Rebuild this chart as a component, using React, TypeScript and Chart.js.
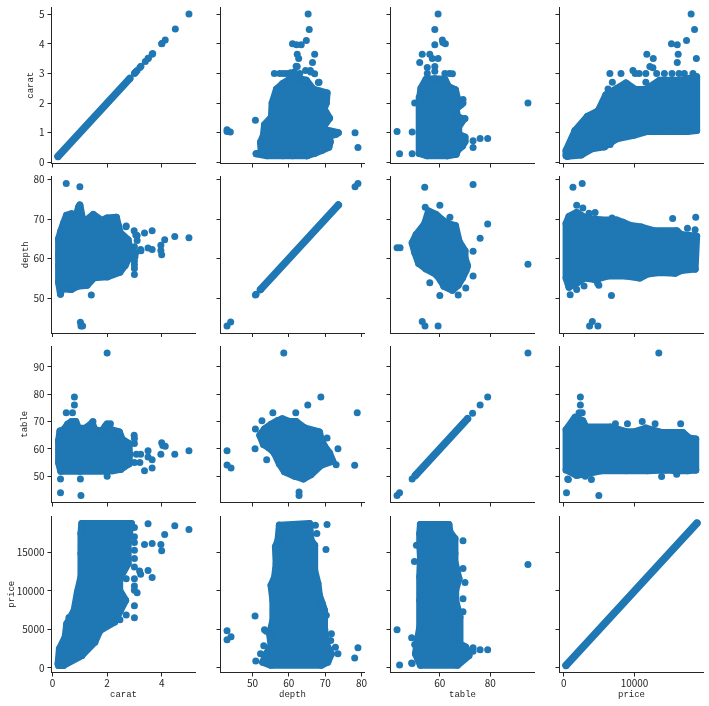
import React, { useEffect, useRef } from "react";
import { Chart, registerables } from "chart.js";

Chart.register(...registerables);

const variables = ["carat", "depth", "table", "price"];

const caratRange = [-0.04, 5.24];
const depthRange = [41.2, 80.8];
const tableRange = [40.4, 97.6];
const priceRange = [-599, 19748];

const caratTicksX = [0, 2, 4];
const caratTicksY = [0, 1, 2, 3, 4, 5];
const depthTicks = [50, 60, 70, 80];
const tableTicksX = [60, 80];
const tableTicksY = [50, 60, 70, 80, 90];
const priceTicksX = [0, 10000];
const priceTicksY = [0, 5000, 10000, 15000];

// Diagonals: continuous runs and isolated values
const caratRun = [0.2, 2.83];
const caratAlone = [3.0, 3.02, 3.05, 3.1, 3.2, 3.24, 3.4, 3.5, 3.51, 3.65, 3.67, 4.0, 4.01, 4.13, 4.5, 5.0];
const depthRun = [52.2, 73.6];
const depthAlone = [43, 44, 50.8, 51, 78.2, 79];
const tableRun = [50.5, 71];
const tableAlone = [43, 44, 49, 50, 73, 76, 79, 95];
const priceRun = [326, 18823];
const priceAlone: number[] = [];

// Outlines of the dense clouds and the isolated points, one list per pair of variables
const caratDepthEdge = [[0.22, 65], [0.3, 67], [0.4, 69], [0.51, 71], [0.7, 71.4], [0.85, 70.5], [0.95, 73], [1.0, 73.6], [1.1, 70], [1.22, 69.7], [1.49, 71.2], [1.8, 69.7], [2.0, 70.3], [2.34, 70.5], [2.41, 68.4], [2.47, 66.7], [2.77, 64.8], [2.83, 62.5], [2.8, 60.2], [2.66, 58.3], [2.47, 56.6], [2.0, 55.4], [1.53, 55.2], [1.27, 53.3], [0.91, 53], [0.68, 52.2], [0.34, 52.4], [0.29, 51], [0.22, 54], [0.22, 58.3], [0.22, 61]];
const caratDepthAlone = [[5, 65.3], [4.48, 65.6], [4.11, 64.8], [4, 61], [3.97, 63.4], [3.97, 62.1], [3.65, 62.3], [3.65, 67.1], [3.5, 62.7], [3.37, 66.5], [3.23, 62.3], [3.1, 65.9], [3.1, 64.6], [2.99, 67.1], [2.69, 68.1], [3, 59.4], [3, 57.5], [3, 56], [3, 61], [3, 63], [1.42, 50.8], [0.5, 79], [1.0, 78.2], [1.02, 43.9], [1.04, 43], [1.1, 43], [3.24, 62], [3.05, 61.5], [3.02, 60.5], [3.0, 58.5], [3.05, 66], [2.7, 68.3]];

const caratTableEdge = [[0.22, 63], [0.27, 66.5], [0.4, 67], [0.55, 69], [0.7, 70], [0.85, 70], [0.95, 67.5], [1.2, 67.5], [1.45, 69.5], [1.55, 67], [1.8, 66.5], [1.95, 68.5], [2.15, 67], [2.45, 66.2], [2.55, 63.5], [2.8, 62], [2.82, 58], [2.8, 54.5], [2.5, 52.5], [2.2, 52], [2, 51.8], [1, 51.8], [0.3, 51.8], [0.22, 55]];
const caratTableAlone = [[2, 95], [0.8, 79], [0.8, 76], [0.5, 73.2], [0.73, 73.2], [0.29, 49], [0.29, 44], [1.04, 43], [1.02, 49], [2, 50], [1.48, 70], [2, 69.2], [2.12, 69.2], [2.99, 65], [3, 63.8], [4, 62.2], [4.04, 61.2], [4.13, 61], [3.97, 58], [4.48, 58], [5, 59.3], [3.5, 59.3], [3.5, 57], [3.65, 56], [3.65, 53], [3.37, 52], [3.23, 58], [3.2, 55], [3, 55], [3.07, 58], [3, 62]];

const caratPriceEdge = [[1.07, 1600], [1.55, 3350], [1.74, 4870], [2.28, 5960], [2.49, 7480], [2.68, 8780], [2.46, 10090], [2.46, 11600], [2.77, 13570], [2.77, 16600], [2.89, 18780], [1.07, 18780], [1.04, 17480], [1.04, 14870], [1.04, 11830], [0.91, 9870], [0.79, 7480], [0.52, 5740], [0.46, 4000], [0.25, 2480], [0.2, 520], [0.22, 326], [0.4, 326]];
const caratPriceAlone = [[5, 18000], [4.48, 18480], [3.5, 18740], [4.11, 17350], [3, 18260], [3.37, 16040], [3.65, 16170], [3.97, 16040], [4, 15220], [3, 17040], [3, 16300], [3, 15300], [3, 14220], [3, 13130], [3.5, 12650], [3.19, 12600], [3.23, 12170], [3.65, 11740], [3, 11600], [2.7, 11600], [3, 10650], [3.1, 9780], [3, 10090], [3, 8090], [3, 6520], [2.7, 6870], [2.47, 6260], [0.6, 6560]];

const depthTableEdge = [[54.5, 60.4], [53, 61.6], [52, 65], [53.3, 67.3], [55.1, 69], [57, 70.4], [58.2, 71], [60.2, 70], [62, 70], [64.3, 67.7], [68.4, 66.2], [68.9, 63.4], [69.8, 61], [71.2, 58.5], [72.1, 55.5], [68.9, 54], [66.1, 50.6], [64, 49], [61.6, 50], [58.8, 51.6], [57.4, 54.5], [56, 58.5]];
const depthTableAlone = [[58.6, 95], [65.2, 76], [68.8, 79], [78.8, 73.2], [78.1, 54], [55.6, 73.2], [61.9, 73.2], [52.6, 70.3], [50.8, 67.3], [50.7, 60], [43, 59.3], [43, 54.1], [44.1, 53], [53.9, 56], [62.8, 44.2], [62.8, 43], [73.5, 60], [70.5, 64], [73, 54.2]];

const depthPriceEdge = [[57.4, 18560], [65.7, 18780], [66.1, 16600], [67.1, 15960], [67.1, 12700], [68, 10960], [68.4, 9430], [69.2, 8350], [69.8, 7480], [69.8, 5300], [70.3, 3130], [71.7, 1830], [70.7, 740], [68.9, 330], [55.1, 330], [52.8, 740], [53.8, 1830], [55.1, 2910], [54.7, 4430], [55.6, 6170], [55.6, 8780], [55.1, 10740], [56.1, 11830], [56.5, 13570], [56.3, 15740], [57, 16600]];
const depthPriceAlone = [[70.5, 18650], [67.7, 17480], [67.3, 18560], [70.2, 15390], [43, 4830], [44.1, 4040], [43, 3650], [50.7, 6740], [53.3, 4960], [53.8, 4780], [53.1, 2870], [50.9, 910], [52.2, 1830], [78.1, 1300], [79, 2610], [73.5, 1830], [72.8, 2700], [71.7, 4430], [71.5, 3570], [70.3, 6830]];

const tablePriceEdge = [[52.3, 18650], [63.6, 18650], [64, 17700], [66, 16820], [66, 14870], [66, 13780], [67.6, 11610], [66.3, 10090], [66.3, 8780], [68, 6610], [68, 3130], [70.3, 2700], [71.6, 1610], [67, 330], [52.3, 330], [50.3, 1830], [51, 3350], [52, 5300], [52, 8780], [52, 11830], [52.3, 14430], [52, 15960], [52, 17480]];
const tablePriceAlone = [[95, 13430], [69.2, 16520], [50.7, 15960], [49.9, 13830], [69.2, 12910], [70, 11090], [69.2, 9000], [69.2, 7300], [43, 4960], [44, 390], [48.8, 650], [48.8, 3910], [73.2, 2610], [73.2, 2170], [76, 2350], [79, 2350], [50, 3040], [49, 560]];

const ranges = [caratRange, depthRange, tableRange, priceRange];
const ticksX = [caratTicksX, depthTicks, tableTicksX, priceTicksX];
const ticksY = [caratTicksY, depthTicks, tableTicksY, priceTicksY];
const runs = [caratRun, depthRun, tableRun, priceRun];
const alone = [caratAlone, depthAlone, tableAlone, priceAlone];
const pairs: Record<string, number[][][]> = {
  "0-1": [caratDepthEdge, caratDepthAlone],
  "0-2": [caratTableEdge, caratTableAlone],
  "0-3": [caratPriceEdge, caratPriceAlone],
  "1-2": [depthTableEdge, depthTableAlone],
  "1-3": [depthPriceEdge, depthPriceAlone],
  "2-3": [tablePriceEdge, tablePriceAlone],
};

const BLUE = "#1f77b4";
const INK = "#262626";
const WIDTH = 709;
const HEIGHT = 706;
const lefts = [51.5, 220.5, 390.5, 559.5];
const rights = [195.5, 364.5, 534.5, 703.5];
const tops = [7, 176.5, 346, 516];
const bottoms = [163.5, 333, 502.5, 672.5];
const titleCentersY = [31, 26, 25, 12];
const tickFont = { family: '"Noto Sans CJK SC", sans-serif', size: 10 };
const titleFont = { family: '"Liberation Mono", monospace', size: 9 };

function toXY(list: number[][], flip: boolean) {
  return list.map(([a, b]) => (flip ? { x: b, y: a } : { x: a, y: b }));
}

function panelDatasets(row: number, col: number) {
  const base = {
    borderColor: BLUE,
    backgroundColor: BLUE,
    pointBackgroundColor: BLUE,
    pointBorderWidth: 0,
    pointRadius: 3.5,
    clip: false as const,
    tension: 0,
    borderCapStyle: "round",
    borderJoinStyle: "round",
  };
  if (row === col) {
    return [
      { ...base, showLine: true, borderWidth: 7.5, data: runs[row].map((v) => ({ x: v, y: v })) },
      { ...base, showLine: false, data: alone[row].map((v) => ({ x: v, y: v })) },
    ];
  }
  const flip = col > row;
  const key = flip ? `${row}-${col}` : `${col}-${row}`;
  const [edge, single] = pairs[key];
  return [
    { ...base, showLine: true, borderWidth: 7, fill: "shape", data: toXY([...edge, edge[0]], flip) },
    { ...base, showLine: false, data: toXY(single, flip) },
  ];
}

function makeChart(canvas: HTMLCanvasElement, row: number, col: number) {
  const boxW = col === 0 ? lefts[0] - titleCentersY[row] + 6 : 20;
  const boxH = row === 3 ? 28.3 : 20;
  const xTicks = ticksX[col];
  const yTicks = ticksY[row];
  return new Chart(canvas, {
    type: "scatter",
    data: { datasets: panelDatasets(row, col) as any },
    options: {
      animation: false,
      responsive: false,
      devicePixelRatio: 1,
      events: [],
      layout: {
        padding: {
          left: lefts[col] - boxW,
          right: WIDTH - rights[col],
          top: tops[row],
          bottom: HEIGHT - bottoms[row] - boxH,
        },
      },
      plugins: { legend: { display: false }, tooltip: { enabled: false } },
      scales: {
        x: {
          type: "linear",
          bounds: "data",
          min: ranges[col][0],
          max: ranges[col][1],
          border: { display: true, color: INK, width: 1 },
          grid: { drawOnChartArea: false, drawTicks: true, tickLength: 4, tickColor: INK, tickWidth: 1 },
          ticks: {
            autoSkip: false,
            maxRotation: 0,
            minRotation: 0,
            padding: 1,
            color: INK,
            font: tickFont,
            callback: (v: any) => (row === 3 ? String(v) : ""),
          },
          title: {
            display: row === 3,
            text: variables[col],
            color: INK,
            font: { ...titleFont, lineHeight: "12px" },
            padding: 0,
          },
          afterBuildTicks: (s: any) => {
            s.ticks = xTicks.map((value) => ({ value }));
          },
          afterFit: (s: any) => {
            s.height = boxH;
            s.paddingLeft = 0;
            s.paddingRight = 0;
          },
        },
        y: {
          type: "linear",
          bounds: "data",
          min: ranges[row][0],
          max: ranges[row][1],
          border: { display: true, color: INK, width: 1 },
          grid: { drawOnChartArea: false, drawTicks: true, tickLength: 4, tickColor: INK, tickWidth: 1 },
          ticks: {
            autoSkip: false,
            padding: 3,
            color: INK,
            font: tickFont,
            callback: (v: any) => (col === 0 ? String(v) : ""),
          },
          title: {
            display: col === 0,
            text: variables[row],
            color: INK,
            font: { ...titleFont, lineHeight: "12px" },
            padding: 0,
          },
          afterBuildTicks: (s: any) => {
            s.ticks = yTicks.map((value) => ({ value }));
          },
          afterFit: (s: any) => {
            s.width = boxW;
            s.paddingTop = 0;
            s.paddingBottom = 0;
          },
        },
      },
    } as any,
  });
}

const cells = variables.flatMap((_, row) => variables.map((__, col) => ({ row, col })));

export default function App() {
  const holder = useRef<HTMLDivElement>(null);
  useEffect(() => {
    const made = Array.from(holder.current!.querySelectorAll("canvas")).map((c, i) =>
      makeChart(c as HTMLCanvasElement, cells[i].row, cells[i].col)
    );
    return () => made.forEach((c) => c.destroy());
  }, []);
  return (
    <div ref={holder} style={{ position: "absolute", left: 0, top: 0, width: WIDTH, height: HEIGHT, overflow: "hidden", background: "#fff" }}>
      {cells.map(({ row, col }) => (
        <canvas key={`${row}-${col}`} width={WIDTH} height={HEIGHT} style={{ position: "absolute", left: 0, top: 0, display: "block" }} />
      ))}
    </div>
  );
}
